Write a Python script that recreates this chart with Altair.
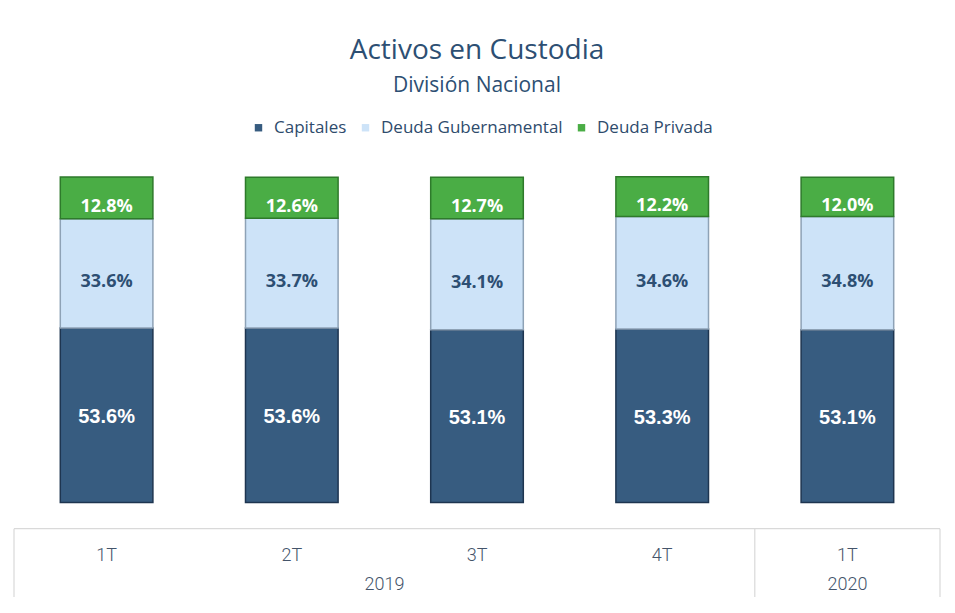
import altair as alt
import pandas as pd

categories = ["1T", "2T", "3T", "4T", "1T"]
years = ["2019", "2019", "2019", "2019", "2020"]
series = ["Capitales", "Deuda Gubernamental", "Deuda Privada"]
capitales = [53.6, 53.6, 53.1, 53.3, 53.1]
gubernamental = [33.6, 33.7, 34.1, 34.6, 34.8]
privada = [12.8, 12.6, 12.7, 12.2, 12.0]
colors = ["#375c80", "#cde3f8", "#4aad45"]
strokes = ["#1e3550", "#8ea2b6", "#2e7a2b"]

rows = []
for i, cat in enumerate(categories):
    start = 0.0
    for s, vals in zip(series, [capitales, gubernamental, privada]):
        v = vals[i]
        rows.append({"idx": i, "cat": cat, "year": years[i], "serie": s,
                     "value": v, "start": start, "end": start + v,
                     "mid": start + v / 2, "label": f"{v:.1f}%",
                     "x0": i + 0.25, "x1": i + 0.75, "xc": i + 0.5})
        start += v
df = pd.DataFrame(rows)

cat_df = pd.DataFrame({"cat": categories, "xc": [i + 0.5 for i in range(len(categories))]})

groups = []
for y in dict.fromkeys(years):
    idxs = [i for i, yy in enumerate(years) if yy == y]
    groups.append({"year": y, "x0": idxs[0], "x1": idxs[-1] + 1, "xc": (idxs[0] + idxs[-1] + 1) / 2})
year_df = pd.DataFrame(groups)
vlines_df = pd.DataFrame({"x": sorted(set([g["x0"] for g in groups] + [g["x1"] for g in groups]))})

xs = alt.Scale(domain=[0, len(categories)], nice=False, zero=False)
ys = alt.Scale(domain=[-29, 100], nice=False, zero=False)

bars = alt.Chart(df).mark_rect(strokeWidth=1.5).encode(
    x=alt.X("x0:Q", scale=xs, axis=None),
    x2="x1:Q",
    y=alt.Y("start:Q", scale=ys, axis=None),
    y2="end:Q",
    color=alt.Color("serie:N", scale=alt.Scale(domain=series, range=colors),
                    legend=alt.Legend(title=None, orient="none", direction="horizontal",
                                      legendX=236, legendY=-58, symbolType="square",
                                      symbolSize=55, symbolStrokeWidth=1,
                                      labelFont="Open Sans", labelFontSize=17,
                                      labelColor="#2e4b6c", columnPadding=10,
                                      labelLimit=400, labelOffset=7)),
    stroke=alt.Stroke("serie:N", scale=alt.Scale(domain=series, range=strokes), legend=None),
)

lab_top = alt.Chart(df).transform_filter(alt.datum.serie != "Capitales").mark_text(
    font="Open Sans", fontWeight="bold", fontSize=18, dy=9
).encode(
    x=alt.X("xc:Q", scale=xs),
    y=alt.Y("mid:Q", scale=ys),
    text="label:N",
    color=alt.Color("serie:N", scale=alt.Scale(domain=series, range=["#ffffff", "#2d4f73", "#ffffff"]), legend=None),
)

lab_bot = alt.Chart(df).transform_filter(alt.datum.serie == "Capitales").mark_text(
    font="Liberation Sans", fontWeight="bold", fontSize=20, color="white", dy=2
).encode(
    x=alt.X("xc:Q", scale=xs),
    y=alt.Y("mid:Q", scale=ys),
    text="label:N",
)

hline = alt.Chart(year_df).mark_rule(color="#d9d9d9", strokeWidth=1.2).encode(
    x=alt.X("min(x0):Q", scale=xs), x2="max(x1):Q", y=alt.datum(-8)
)
vlines = alt.Chart(vlines_df).mark_rule(color="#d9d9d9", strokeWidth=1.2).encode(
    x=alt.X("x:Q", scale=xs), y=alt.datum(-8), y2=alt.datum(-29)
)
cat_text = alt.Chart(cat_df).mark_text(
    font="Roboto", fontWeight=300, fontSize=18, color="#44546a"
).encode(x=alt.X("xc:Q", scale=xs), y=alt.datum(-16.4), text="cat:N")
year_text = alt.Chart(year_df).mark_text(
    font="Roboto", fontWeight=300, fontSize=18, color="#44546a"
).encode(x=alt.X("xc:Q", scale=xs), y=alt.datum(-25.3), text="year:N")

chart = alt.layer(bars, lab_top, lab_bot, hline, vlines, cat_text, year_text).resolve_scale(
    color="independent"
).properties(
    width=926, height=420,
    autosize=alt.AutoSizeParams(type="none"),
    padding={"left": 6, "top": 169, "right": 7, "bottom": 8},
    view=alt.ViewBackground(stroke="transparent", strokeWidth=0),
    title=alt.TitleParams(text="Activos en Custodia", subtitle="División Nacional",
                          anchor="middle", font="Open Sans", fontSize=28, fontWeight="normal",
                          color="#2d4f73", subtitleFont="Open Sans", subtitleFontSize=21,
                          subtitleColor="#2d4f73", subtitlePadding=10, offset=23),
).configure_view(stroke="transparent", strokeWidth=0).configure(background="white")

chart.save("out.html", embed_options={"renderer": "svg", "actions": False})
